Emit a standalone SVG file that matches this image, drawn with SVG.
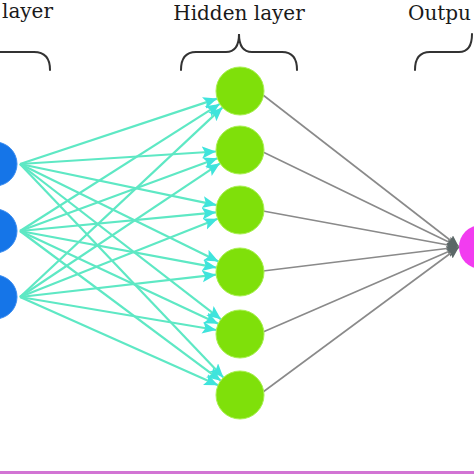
<svg xmlns="http://www.w3.org/2000/svg" width="474" height="474" viewBox="0 0 474 474">
<style>
.lbl{font-family:"DejaVu Serif","Liberation Serif",serif;font-size:20px;fill:#1a1a1a}
.brace{fill:none;stroke:#333;stroke-width:2;stroke-linecap:round}
.in{fill:#1575e8;stroke:#3a8cf0;stroke-width:1}
.hid{fill:#7fe00a;stroke:#a8f050;stroke-width:1}
.out{fill:#f23cf0}
.c1{stroke:#5ee8c4;stroke-width:2.2;fill:none;marker-end:url(#ah)}
.c2{stroke:#8a8a8a;stroke-width:1.6;fill:none;marker-end:url(#gh)}
</style>
<defs>
<marker id="ah" markerUnits="userSpaceOnUse" markerWidth="15" markerHeight="13" refX="14" refY="6" orient="auto">
<path d="M0,0 L14,6 L0,12 L3,6 z" fill="#3fe4dc"/>
</marker>
<marker id="gh" markerUnits="userSpaceOnUse" markerWidth="13" markerHeight="12" refX="12" refY="5.5" orient="auto">
<path d="M0,0 L12,5.5 L0,11 L2,5.5 z" fill="#5c6868"/>
</marker>
</defs>
<rect width="474" height="474" fill="#fff"/>
<g id="labels">
<text class="lbl" x="2" y="18">layer</text>
<text class="lbl" x="239" y="20" text-anchor="middle">Hidden layer</text>
<text class="lbl" x="408" y="20">Outpu</text>
</g>
<g id="braces">
<path class="brace" d="M-60,70 Q-60,52 -45,52 L34,52 Q50,52 50,70"/>
<path class="brace" d="M181,70 Q181,52 196,52 L226,52 Q239,52 239,34 Q239,52 252,52 L282,52 Q297,52 297,70"/>
<path class="brace" d="M415,70 Q415,52 430,52 L459,52 Q472,52 472,34"/>
</g>
<g id="connectors">
<line class="c1" x1="20" y1="164" x2="217.2" y2="98.6"/>
<line class="c1" x1="20" y1="164" x2="216.0" y2="151.5"/>
<line class="c1" x1="20" y1="164" x2="216.5" y2="205.1"/>
<line class="c1" x1="20" y1="164" x2="218.5" y2="261.4"/>
<line class="c1" x1="20" y1="164" x2="221.0" y2="319.3"/>
<line class="c1" x1="20" y1="164" x2="223.4" y2="377.6"/>
<line class="c1" x1="20" y1="231" x2="219.8" y2="103.9"/>
<line class="c1" x1="20" y1="231" x2="217.5" y2="158.3"/>
<line class="c1" x1="20" y1="231" x2="216.1" y2="212.3"/>
<line class="c1" x1="20" y1="231" x2="216.4" y2="267.6"/>
<line class="c1" x1="20" y1="231" x2="218.3" y2="323.8"/>
<line class="c1" x1="20" y1="231" x2="220.8" y2="380.7"/>
<line class="c1" x1="20" y1="297" x2="222.5" y2="107.4"/>
<line class="c1" x1="20" y1="297" x2="220.0" y2="163.3"/>
<line class="c1" x1="20" y1="297" x2="217.7" y2="218.8"/>
<line class="c1" x1="20" y1="297" x2="216.2" y2="274.7"/>
<line class="c1" x1="20" y1="297" x2="216.3" y2="330.0"/>
<line class="c1" x1="20" y1="297" x2="218.1" y2="385.2"/>
<line class="c2" x1="263" y1="95" x2="459" y2="247"/>
<line class="c2" x1="263" y1="152" x2="459" y2="247"/>
<line class="c2" x1="263" y1="211" x2="459" y2="247"/>
<line class="c2" x1="263" y1="271" x2="459" y2="247"/>
<line class="c2" x1="263" y1="332" x2="459" y2="247"/>
<line class="c2" x1="263" y1="392" x2="459" y2="247"/>
</g>
<g id="input1"><circle class="in" cx="-5" cy="164" r="22"/></g>
<g id="input2"><circle class="in" cx="-5" cy="231" r="22"/></g>
<g id="input3"><circle class="in" cx="-5" cy="297" r="22"/></g>
<g id="hidden1"><circle class="hid" cx="240" cy="91" r="24"/></g>
<g id="hidden2"><circle class="hid" cx="240" cy="150" r="24"/></g>
<g id="hidden3"><circle class="hid" cx="240" cy="210" r="24"/></g>
<g id="hidden4"><circle class="hid" cx="240" cy="272" r="24"/></g>
<g id="hidden5"><circle class="hid" cx="240" cy="334" r="24"/></g>
<g id="hidden6"><circle class="hid" cx="240" cy="395" r="24"/></g>
<g id="output1"><circle class="out" cx="481" cy="247" r="22"/></g>
<rect x="0" y="471" width="474" height="3" fill="#d274d4"/>
</svg>
